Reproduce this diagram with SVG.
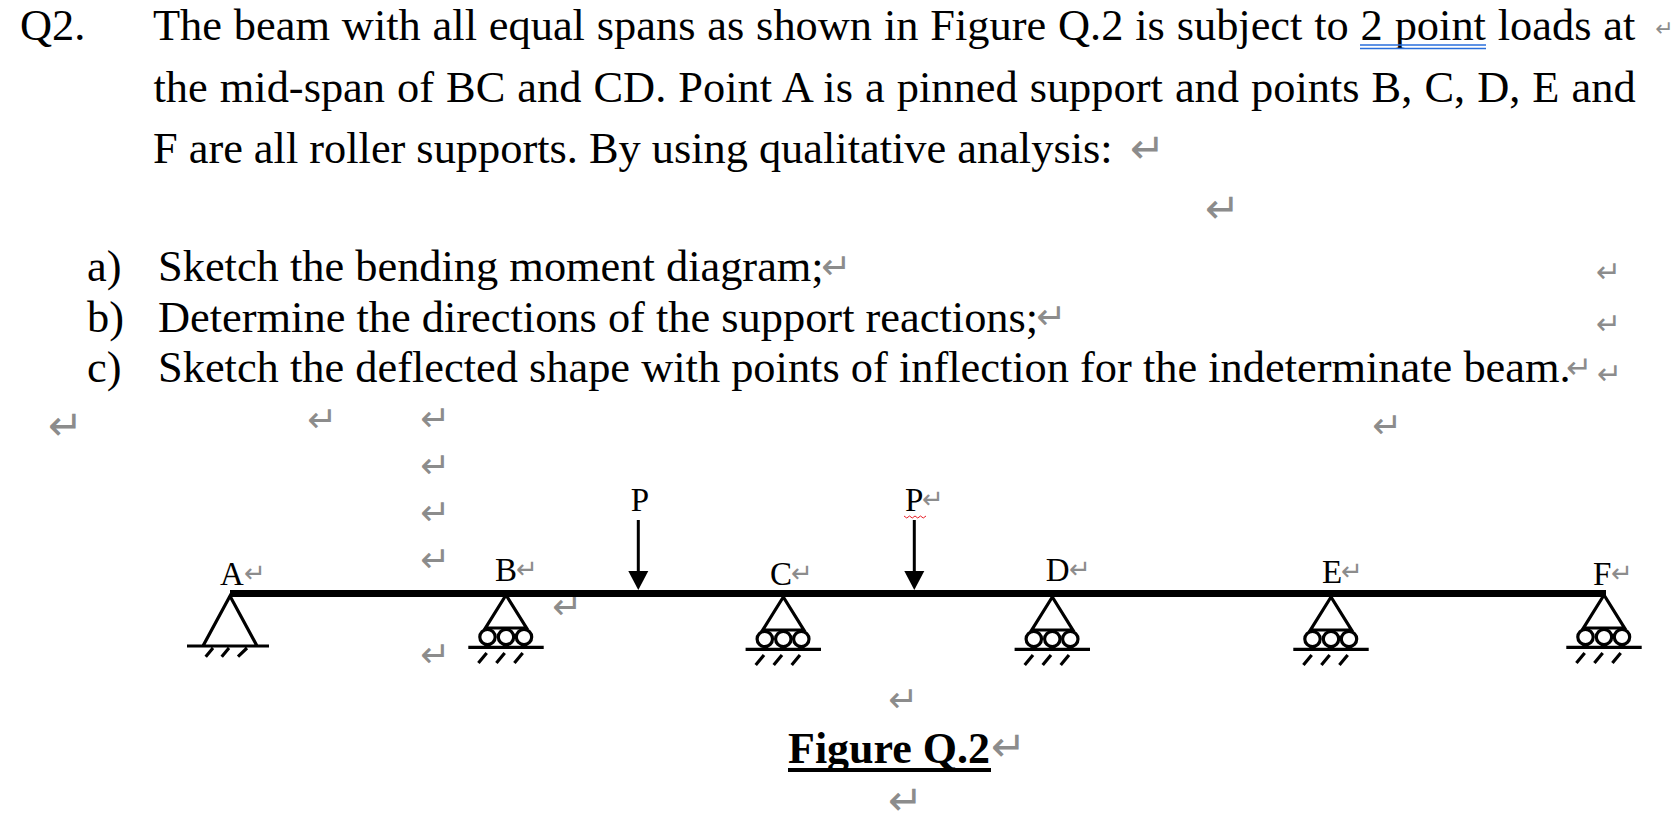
<svg xmlns="http://www.w3.org/2000/svg" width="1674" height="835" viewBox="0 0 1674 835">
<style>
text{font-family:"Liberation Serif","Times New Roman",serif;fill:#000}
.body{font-size:44.4px}
.lab{font-size:33px}
.fig{font-size:44px;font-weight:bold}
text.m{font-family:"DejaVu Sans",sans-serif;fill:#8c8c8c}
.s{font-size:26px}.t{font-size:30px}.n{font-size:36px}.e{font-size:36px}.l{font-size:42px}
.st{fill:none;stroke:#000;stroke-width:3.2}
.beam{stroke:#000;stroke-width:7}
.load{stroke:#000;stroke-width:3;marker-end:url(#head)}
</style>
<defs>
<marker id="head" markerUnits="userSpaceOnUse" markerWidth="22" markerHeight="22" refX="10" refY="0" orient="0" overflow="visible"><path d="M0,0H20L10,19Z" fill="#000"/></marker>
<g id="roller" class="st"><path d="M0,0L-20.5,33H20.5Z"/><circle cx="-18.5" cy="42" r="7.7"/><circle cy="42" r="7.7"/><circle cx="18" cy="42" r="7.7"/><path d="M-37.7,52.3H37.7M-27.6,68L-19.3,58M-9.6,68L-1.3,58M8.4,68L16.7,58"/></g>
</defs>
<g id="text">
<text class="body" x="20" y="40">Q2.</text>
<text class="body" x="153" y="40" word-spacing="0.75">The beam with all equal spans as shown in Figure Q.2 is subject to 2 point loads at</text>
<text class="body" x="153.5" y="102" word-spacing="0.96">the mid-span of BC and CD. Point A is a pinned support and points B, C, D, E and</text>
<text class="body" x="153" y="163" word-spacing="-0.1">F are all roller supports. By using qualitative analysis:</text>
<text class="body" x="87" y="281">a)</text><text class="body" x="158" y="281">Sketch the bending moment diagram;</text>
<text class="body" x="87" y="332">b)</text><text class="body" x="158" y="332">Determine the directions of the support reactions;</text>
<text class="body" x="87" y="382">c)</text><text class="body" x="158" y="382">Sketch the deflected shape with points of inflection for the indeterminate beam.</text>
<path d="M1360,45H1486M1360,48.5H1486" fill="none" stroke="#2a6fdb" stroke-width="1.3"/>
<text class="fig" x="788" y="763">Figure Q.2</text>
<rect x="788" y="768" width="203" height="4" fill="#000"/>
</g>
<g id="marks">
<text class="m" style="font-size:22px" x="1655" y="36">↵</text>
<text class="m l" x="1130" y="163">↵</text>
<text class="m l" x="1205" y="223">↵</text>
<text class="m e" x="821" y="279">↵</text>
<text class="m t" x="1596" y="282">↵</text>
<text class="m e" x="1036" y="329">↵</text>
<text class="m t" x="1596" y="334">↵</text>
<text class="m" style="font-size:31px" x="1566" y="378">↵</text>
<text class="m t" x="1597" y="384">↵</text>
<text class="m l" x="48" y="440">↵</text>
<text class="m n" x="307" y="432">↵</text>
<text class="m n" x="420" y="431">↵</text>
<text class="m n" x="420" y="478">↵</text>
<text class="m n" x="420" y="525">↵</text>
<text class="m n" x="420" y="572">↵</text>
<text class="m n" x="420" y="667">↵</text>
<text class="m n" x="1372" y="438">↵</text>
<text class="m n" x="552" y="619">↵</text>
<text class="m n" x="888" y="712">↵</text>
<text class="m l" x="991" y="761">↵</text>
<text class="m l" x="888" y="815">↵</text>
</g>
<g id="node-A"><text class="lab" x="220" y="585">A</text><text class="m s" x="244" y="582">↵</text>
<path class="st" d="M230,596L203,646H257ZM187,646H269M205.7,656.7L213,648M221.7,656.7L229,648M238,656.7L247,648"/></g>
<g id="node-B"><text class="lab" x="495" y="581">B</text><text class="m s" x="516" y="578">↵</text><use href="#roller" transform="translate(506,595)"/></g>
<g id="node-C"><text class="lab" x="770" y="585">C</text><text class="m s" x="791" y="582">↵</text><use href="#roller" transform="translate(783.3,597)"/></g>
<g id="node-D"><text class="lab" x="1045.7" y="581">D</text><text class="m s" x="1069" y="578">↵</text><use href="#roller" transform="translate(1052.3,597)"/></g>
<g id="node-E"><text class="lab" x="1322" y="583">E</text><text class="m s" x="1341" y="580">↵</text><use href="#roller" transform="translate(1331,597)"/></g>
<g id="node-F"><text class="lab" x="1593" y="585">F</text><text class="m s" x="1611" y="582">↵</text><use href="#roller" transform="translate(1604,595)"/></g>
<g id="load-1"><text class="lab" x="630.7" y="511">P</text></g>
<g id="load-2"><text class="lab" x="905" y="511">P</text><text class="m s" x="922" y="508">↵</text>
<path d="M904,516l2.75,2 2.75,-2 2.75,2 2.75,-2 2.75,2 2.75,-2 2.75,2 2.75,-2" fill="none" stroke="#e8202a" stroke-width="1"/></g>
<g id="connectors">
<line class="beam" x1="230" y1="593.5" x2="1606" y2="593.5"/>
<line class="load" x1="638.3" y1="520" x2="638.3" y2="571"/>
<line class="load" x1="914.3" y1="520" x2="914.3" y2="571"/>
</g>
</svg>
